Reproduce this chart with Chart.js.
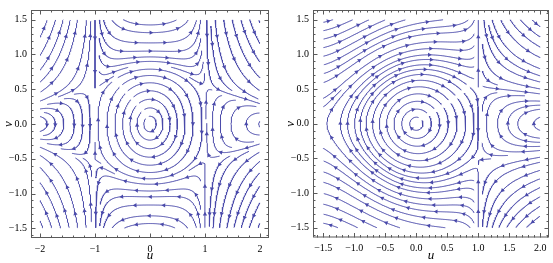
<!DOCTYPE html>
<html>
<head>
<meta charset="utf-8">
<script src="https://cdn.jsdelivr.net/npm/chart.js@4.4.1/dist/chart.umd.min.js"></script>
<style>
  html, body { margin: 0; padding: 0; background: #fff; }
  #wrap { position: relative; width: 553px; height: 263px; }
  canvas { position: absolute; top: 0; }
</style>
</head>
<body>
<div id="wrap">
  <canvas id="left" width="276" height="263" style="left:0"></canvas>
  <canvas id="right" width="277" height="263" style="left:276px"></canvas>
</div>
<script>
/* Two phase portraits (stream plots) in the (u, v) plane. */

// ---- data ----
// plotted range of the streams and the framed range of each panel
var leftRangeU = [-2, 2], leftRangeV = [-1.5, 1.5];
var rightRangeU = [-1.5, 2], rightRangeV = [-1.5, 1.5];
var leftFrame = [-2.164, 2.164, -1.64, 1.64];
var rightFrame = [-1.665, 2.14, -1.64, 1.64];

// tick values and labels
var leftTicksU = [-2, -1, 0, 1, 2];
var leftLabelsU = ["\u22122", "\u22121", "0", "1", "2"];
var rightTicksU = [-1.5, -1.0, -0.5, 0.0, 0.5, 1.0, 1.5, 2.0];
var rightLabelsU = ["\u22121.5", "\u22121.0", "\u22120.5", "0.0", "0.5", "1.0", "1.5", "2.0"];
var ticksV = [-1.5, -1.0, -0.5, 0.0, 0.5, 1.0, 1.5];
var labelsV = ["\u22121.5", "\u22121.0", "\u22120.5", "0.0", "0.5", "1.0", "1.5"];

// separatrix levels v^2 = psi(u) and exponents of the singular factor,
// inside / outside the invariant lines (u = +-1 on the left, u = 1 on the right)
var leftSepIn = [0.82, 0.3, 0.45];      // psi = (a - b u^4)^2 - c u^2 (1 - u^2)
var leftSepOut = [0.52, 0.2, 0.03];     // psi = (a - b d - c d^2)^2, d = |u| - 1
var leftPow = [0.8, 2.0];
var rightSepIn = [0.66, 0.1697, -0.6891, -0.0106, 0.14]; // psi = sum a_k u^k
var rightSepOut = [0.27, -0.07, -0.0174]; // psi = a + b x + c x^2, x = u - 1
var rightPow = [0.2571, 1.0];

// seeds on the invariant lines and at the centre
var leftLineSeeds = [[-1, 1.0], [-1, 0], [-1, -1.0], [1, 1.0], [1, 0], [1, -1.0], [0, 0.12]];
var rightLineSeeds = [[1, 1.0], [1, 0], [1, -1.0], [0, 0.12]];

// ---- layout ----
var SERIF = "'Liberation Serif', 'Times New Roman', 'DejaVu Serif', serif";
var STREAM = "rgb(74,74,170)";
var FRAME = "#5a5a5a";
var leftBox = { l: 31, r: 269, t: 1, b: 238 };
var rightBox = { l: 37, r: 275, t: 1, b: 237.5 };

// ---- vector fields ----
function psiLeftIn(u) {
    var a = leftSepIn, t = a[0] - a[1] * u * u * u * u;
    return t * t - a[2] * u * u * (1 - u * u);
}
function psiLeftOut(u) {
    var a = leftSepOut, d = Math.abs(u) - 1, t = a[0] - a[1] * d - a[2] * d * d;
    return t * t;
}
function psiRightIn(u) {
    var a = rightSepIn, r = 0;
    for (var k = a.length - 1; k >= 0; k--) r = r * u + a[k];
    return r;
}
function psiRightOut(u) {
    var a = rightSepOut, x = u - 1;
    return a[0] + a[1] * x + a[2] * x * x;
}
function deriv(f, u) { return (f(u + 1e-5) - f(u - 1e-5)) / 2e-5; }

function fieldLeft(u, v) {
    var g = 1 - u * u, inner = g >= 0;
    var psi = inner ? psiLeftIn : psiLeftOut, a = inner ? leftPow[0] : leftPow[1];
    var fu = 2 * v * g, fv = 2 * a * u * (v * v - psi(u)) + g * deriv(psi, u);
    if (g < 0) { fu = -fu; fv = -fv; }
    return [fu, fv];
}
function fieldRight(u, v) {
    var g = 1 - u, inner = g >= 0;
    var psi = inner ? psiRightIn : psiRightOut, a = inner ? rightPow[0] : rightPow[1];
    var fu = 2 * v * g, fv = a * (v * v - psi(u)) + g * deriv(psi, u);
    if (g < 0) { fu = -fu; fv = -fv; }
    return [fu, fv];
}

// ---- evenly spaced streamlines ----
function streams(cfg) {
    var sx = cfg.sx, sy = cfg.sy, dsep = cfg.dsep, dtest = cfg.dtest;
    var hash = {}, lines = [], queue = [];

    function insert(p) {
        var k = Math.floor(p.x / dsep) + ":" + Math.floor(p.y / dsep);
        (hash[k] || (hash[k] = [])).push(p);
    }
    function clash(x, y, d, id, s) {
        var ci = Math.floor(x / dsep), cj = Math.floor(y / dsep), d2 = d * d;
        for (var i = ci - 1; i <= ci + 1; i++) for (var j = cj - 1; j <= cj + 1; j++) {
            var b = hash[i + ":" + j];
            if (!b) continue;
            for (var k = 0; k < b.length; k++) {
                var p = b[k];
                if (p.id === id && Math.abs(p.s - s) < 3 * dsep) continue;
                var dx = p.x - x, dy = p.y - y;
                if (dx * dx + dy * dy < d2) return true;
            }
        }
        return false;
    }
    function dir(u, v) {
        var f = cfg.field(u, v), a = f[0] * sx, b = -f[1] * sy, m = Math.sqrt(a * a + b * b);
        return m > 1e-10 ? [a / m, b / m] : null;
    }
    function inside(u, v) {
        return u >= cfg.u[0] && u <= cfg.u[1] && v >= cfg.v[0] && v <= cfg.v[1];
    }
    function trace(u, v, sgn, id) {
        var out = [], s = 0, h = 0.7, prev = null, reg = cfg.region(u);
        for (var n = 0; n < 4000; n++) {
            var d1 = dir(u, v);
            if (!d1) break;
            var d2 = dir(u + sgn * d1[0] * h / 2 / sx, v - sgn * d1[1] * h / 2 / sy);
            if (!d2) break;
            if (d1[0] * d2[0] + d1[1] * d2[1] < 0.7) break;
            if (prev && prev[0] * d2[0] + prev[1] * d2[1] < 0.7) break;
            var un = u + sgn * d2[0] * h / sx, vn = v - sgn * d2[1] * h / sy;
            if (!inside(un, vn) || cfg.region(un) !== reg) break;
            s += h;
            var x = un * sx, y = -vn * sy;
            if (clash(x, y, dtest, id, sgn * s)) break;
            var p = { u: un, v: vn, x: x, y: y, s: sgn * s, id: id };
            insert(p);
            out.push(p);
            u = un; v = vn; prev = d2;
        }
        return out;
    }
    function make(u, v) {
        var x = u * sx, y = -v * sy;
        if (!inside(u, v) || !dir(u, v) || clash(x, y, dsep * 0.95, -1, 0)) return null;
        var id = lines.length;
        var p0 = { u: u, v: v, x: x, y: y, s: 0, id: id };
        insert(p0);
        var f = trace(u, v, 1, id), b = trace(u, v, -1, id);
        var line = { id: id, pts: b.reverse().concat([p0], f) };
        lines.push(line);
        queue.push(line);
        return line;
    }
    function grow() {
        while (queue.length) {
            var l = queue.shift();
            for (var i = 0; i < l.pts.length; i += 3) {
                var p = l.pts[i], d = dir(p.u, p.v);
                if (!d) continue;
                for (var k = -1; k <= 1; k += 2) {
                    make((p.x - k * d[1] * dsep) / sx, -(p.y + k * d[0] * dsep) / sy);
                }
            }
        }
    }
    cfg.seeds.forEach(function (s) { make(s[0], s[1]); grow(); });
    for (var y = -cfg.v[1] * sy; y <= -cfg.v[0] * sy; y += dsep / 2) {
        for (var x = cfg.u[0] * sx; x <= cfg.u[1] * sx; x += dsep / 2) {
            if (make(x / sx, -y / sy)) grow();
        }
    }

    // arrows along each line
    var arrows = [];
    lines.forEach(function (l) {
        var pts = l.pts, len = 0, cum = [0];
        for (var i = 1; i < pts.length; i++) {
            len += Math.hypot(pts[i].x - pts[i - 1].x, pts[i].y - pts[i - 1].y);
            cum.push(len);
        }
        if (len < 9) return;
        var n = Math.max(1, Math.round(len / cfg.arrowGap));
        var j = 0;
        for (var k = 0; k < n; k++) {
            var at = len * (k + 0.5) / n;
            while (j < cum.length - 1 && cum[j] < at) j++;
            var p = pts[j], d = dir(p.u, p.v);
            if (!d) continue;
            arrows.push({ x: p.u, y: p.v, du: d[0] / sx * 0.01, dv: -d[1] / sy * 0.01 });
        }
    });
    return { lines: lines.filter(function (l) { return l.pts.length > 4; }), arrows: arrows };
}

// ---- chart helpers ----
var frameTicks = {
    id: "frameTicks",
    afterDraw: function (chart, args, opts) {
        var ctx = chart.ctx, a = chart.chartArea, xs = chart.scales.x, ys = chart.scales.y;
        ctx.save();
        ctx.strokeStyle = FRAME;
        ctx.lineWidth = 1;
        ctx.strokeRect(a.left + 0.5, a.top + 0.5, a.right - a.left - 1, a.bottom - a.top - 1);
        function tx(list, len) {
            list.forEach(function (t) {
                var x = Math.round(xs.getPixelForValue(t)) + 0.5;
                ctx.moveTo(x, a.bottom); ctx.lineTo(x, a.bottom - len);
                ctx.moveTo(x, a.top); ctx.lineTo(x, a.top + len);
            });
        }
        function ty(list, len) {
            list.forEach(function (t) {
                var y = Math.round(ys.getPixelForValue(t)) + 0.5;
                ctx.moveTo(a.left, y); ctx.lineTo(a.left + len, y);
                ctx.moveTo(a.right, y); ctx.lineTo(a.right - len, y);
            });
        }
        ctx.beginPath();
        tx(opts.majorU, 4.5); ty(opts.majorV, 4.5);
        tx(opts.minorU, 2.5); ty(opts.minorV, 2.5);
        ctx.stroke();
        ctx.restore();
    }
};

function minorTicks(frame, step, majors) {
    var out = [];
    for (var t = Math.ceil(frame[0] / step) * step; t <= frame[1] + 1e-9; t += step) {
        var r = Math.round(t * 100) / 100;
        if (majors.indexOf(r) < 0) out.push(r);
    }
    return out;
}

function fixLabels(values, labels) {
    return function (s) {
        s.ticks.forEach(function (t) {
            var i = values.indexOf(Math.round(t.value * 100) / 100);
            if (i >= 0) t.label = labels[i];
        });
    };
}

function buildChart(canvasId, frame, box, padRight, ticksU, labelsU, minorStepU, res) {
    var datasets = res.lines.map(function (l) {
        return {
            data: l.pts.map(function (p) { return { x: p.u, y: p.v }; }),
            showLine: true, borderColor: STREAM, borderWidth: 1,
            pointRadius: 0, tension: 0, fill: false
        };
    });
    datasets.push({
        data: res.arrows,
        showLine: false,
        pointStyle: "triangle",
        pointRadius: 2.5,
        borderWidth: 0,
        backgroundColor: STREAM,
        rotation: function (c) {
            var p = c.raw, sc = c.chart.scales;
            if (!p) return 0;
            var a = sc.x.getPixelForValue(p.x + p.du) - sc.x.getPixelForValue(p.x);
            var b = sc.y.getPixelForValue(p.y + p.dv) - sc.y.getPixelForValue(p.y);
            return Math.atan2(a, -b) * 180 / Math.PI;
        }
    });
    return new Chart(document.getElementById(canvasId), {
        type: "scatter",
        data: { datasets: datasets },
        plugins: [frameTicks],
        options: {
            responsive: false, animation: false, devicePixelRatio: 1, events: [],
            layout: { padding: { top: box.t, right: padRight, left: 0, bottom: 0 } },
            plugins: {
                legend: { display: false }, tooltip: { enabled: false },
                frameTicks: {
                    majorU: ticksU, majorV: ticksV,
                    minorU: minorTicks([frame[0], frame[1]], minorStepU, ticksU),
                    minorV: minorTicks([frame[2], frame[3]], 0.1, ticksV)
                }
            },
            scales: {
                x: {
                    type: "linear", position: "bottom", min: frame[0], max: frame[1],
                    grid: { display: false, drawTicks: false }, border: { display: false },
                    afterBuildTicks: function (s) { s.ticks = ticksU.map(function (t) { return { value: t }; }); },
                    afterTickToLabelConversion: fixLabels(ticksU, labelsU),
                    afterFit: function (s) { s.height = 263 - box.b; },
                    ticks: {
                        autoSkip: false, maxRotation: 0, padding: 5, color: "#000",
                        font: { family: SERIF, size: 10 }
                    },
                    title: { display: true, text: "u", color: "#000", padding: { top: 0, bottom: 0 },
                             font: { family: SERIF, size: 13, style: "italic" } }
                },
                y: {
                    type: "linear", position: "left", min: frame[2], max: frame[3],
                    grid: { display: false, drawTicks: false }, border: { display: false },
                    afterBuildTicks: function (s) { s.ticks = ticksV.map(function (t) { return { value: t }; }); },
                    afterTickToLabelConversion: fixLabels(ticksV, labelsV),
                    afterFit: function (s) { s.width = box.l; },
                    ticks: {
                        autoSkip: false, padding: 4, color: "#000",
                        font: { family: SERIF, size: 10 }
                    },
                    title: { display: true, text: "v", color: "#000", padding: { top: box.l - 30, bottom: 0 },
                             font: { family: SERIF, size: 13, style: "italic" } }
                }
            }
        }
    });
}

// ---- build ----
var leftRes = streams({
    field: fieldLeft,
    region: function (u) { var g = 1 - u * u; return g > 0 ? 1 : (g < 0 ? -1 : 0); },
    u: leftRangeU, v: leftRangeV,
    sx: (leftBox.r - leftBox.l) / (leftFrame[1] - leftFrame[0]),
    sy: (leftBox.b - leftBox.t) / (leftFrame[3] - leftFrame[2]),
    dsep: 8.5, dtest: 4, arrowGap: 30, seeds: leftLineSeeds
});
var rightRes = streams({
    field: fieldRight,
    region: function (u) { var g = 1 - u; return g > 0 ? 1 : (g < 0 ? -1 : 0); },
    u: rightRangeU, v: rightRangeV,
    sx: (rightBox.r - rightBox.l) / (rightFrame[1] - rightFrame[0]),
    sy: (rightBox.b - rightBox.t) / (rightFrame[3] - rightFrame[2]),
    dsep: 8.5, dtest: 4, arrowGap: 30, seeds: rightLineSeeds
});

buildChart("left", leftFrame, leftBox, 276 - leftBox.r, leftTicksU, leftLabelsU, 0.2, leftRes);
buildChart("right", rightFrame, rightBox, 277 - rightBox.r, rightTicksU, rightLabelsU, 0.1, rightRes);
</script>
</body>
</html>
